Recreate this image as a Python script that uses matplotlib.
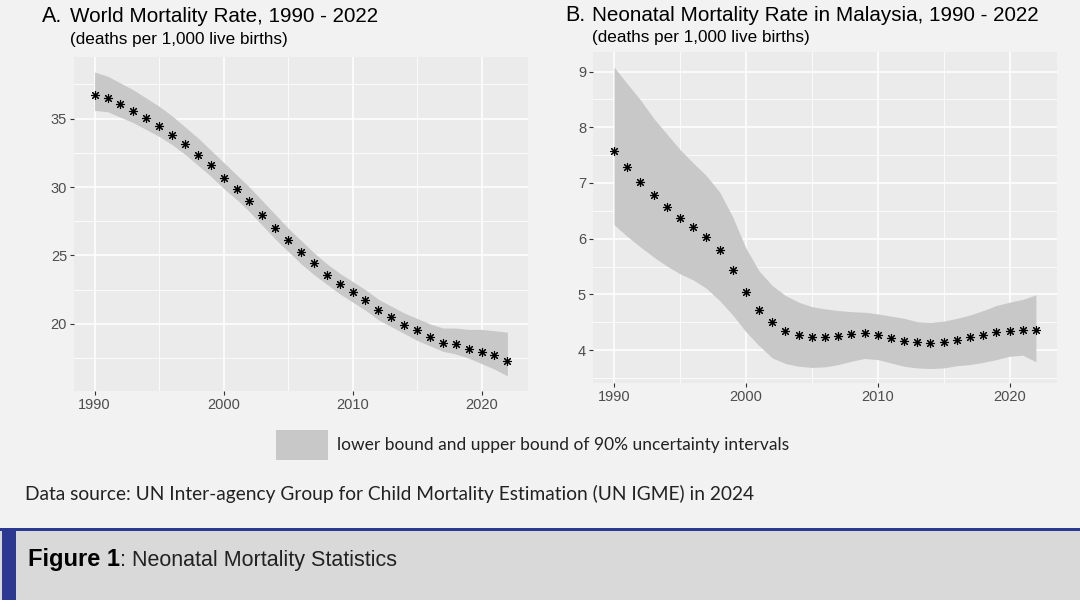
import numpy as np
import matplotlib.pyplot as plt
from matplotlib.patches import Rectangle
from matplotlib.ticker import MultipleLocator

W, H = 1080, 607

years = list(range(1990, 2023))

# World neonatal mortality rate (deaths per 1,000 live births)
world_rate = [36.71, 36.49, 36.06, 35.58, 35.04, 34.49, 33.81, 33.12, 32.36, 31.59,
              30.67, 29.88, 28.96, 27.97, 27.00, 26.11, 25.24, 24.42, 23.59, 22.94,
              22.32, 21.74, 20.99, 20.53, 19.90, 19.54, 19.06, 18.59, 18.50, 18.16,
              17.97, 17.70, 17.29]
world_upper = [38.4, 38.1, 37.6, 37.1, 36.5, 35.9, 35.2, 34.4, 33.6, 32.7,
               31.8, 30.9, 30.0, 29.0, 28.0, 27.0, 26.1, 25.2, 24.4, 23.7,
               23.1, 22.5, 21.8, 21.3, 20.8, 20.4, 20.0, 19.7, 19.7, 19.6,
               19.6, 19.5, 19.4]
world_lower = [35.6, 35.5, 35.1, 34.7, 34.2, 33.7, 33.1, 32.4, 31.6, 30.8,
               29.9, 29.1, 28.2, 27.2, 26.2, 25.3, 24.4, 23.6, 22.9, 22.2,
               21.6, 21.0, 20.3, 19.8, 19.3, 18.8, 18.4, 18.0, 17.8, 17.5,
               17.1, 16.7, 16.2]

# Malaysia neonatal mortality rate
mys_rate = [7.57, 7.29, 7.02, 6.78, 6.56, 6.37, 6.21, 6.03, 5.79, 5.43,
            5.05, 4.72, 4.50, 4.35, 4.27, 4.24, 4.23, 4.25, 4.29, 4.30,
            4.28, 4.22, 4.17, 4.14, 4.13, 4.15, 4.19, 4.23, 4.28, 4.32,
            4.35, 4.37, 4.37]
mys_upper = [9.08, 8.78, 8.49, 8.16, 7.88, 7.60, 7.36, 7.13, 6.84, 6.39,
             5.83, 5.42, 5.16, 4.98, 4.86, 4.78, 4.74, 4.71, 4.69, 4.68,
             4.65, 4.61, 4.57, 4.51, 4.50, 4.52, 4.57, 4.63, 4.71, 4.80,
             4.86, 4.91, 4.99]
mys_lower = [6.25, 6.04, 5.85, 5.67, 5.51, 5.37, 5.26, 5.11, 4.89, 4.63,
             4.33, 4.08, 3.86, 3.76, 3.71, 3.69, 3.70, 3.74, 3.80, 3.85,
             3.83, 3.77, 3.71, 3.68, 3.67, 3.68, 3.72, 3.74, 3.78, 3.83,
             3.89, 3.91, 3.79]

BG = '#F2F2F2'
PANEL = '#EBEBEB'
BAND = '#C8C8C8'
BLUE = '#2B3990'

plt.rcParams['font.family'] = ['Liberation Sans', 'DejaVu Sans']


def fx(x):
    return x / W


def fy(y):
    return 1 - y / H


def style_axes(ax, ymajor, yminor, ylim):
    ax.set_facecolor(PANEL)
    for s in ax.spines.values():
        s.set_visible(False)
    ax.set_xlim(1988.4, 2023.6)
    ax.set_ylim(*ylim)
    ax.xaxis.set_major_locator(MultipleLocator(10))
    ax.xaxis.set_minor_locator(MultipleLocator(5))
    ax.yaxis.set_major_locator(MultipleLocator(ymajor))
    ax.yaxis.set_minor_locator(MultipleLocator(yminor))
    ax.grid(which='major', color='white', lw=1.1)
    ax.grid(which='minor', color='white', lw=0.55)
    ax.set_axisbelow(True)
    ax.tick_params(which='major', length=3, width=0.8, color='#333333',
                   labelcolor='#4D4D4D', labelsize=10.5, pad=2)
    ax.tick_params(which='minor', length=0)


def draw(ax, rate, lower, upper):
    ax.fill_between(years, lower, upper, color=BAND, lw=0, zorder=2)
    ax.plot(years, rate, ls='none', marker=(8, 2, 0), ms=6.5, mew=0.8,
            color='black', zorder=3)


fig = plt.figure(figsize=(W / 100, H / 100), dpi=100, facecolor=BG)

ax1 = fig.add_axes([fx(74), fy(391), fx(528 - 74), (391 - 57) / H])
style_axes(ax1, 5, 2.5, (15.1, 39.5))
draw(ax1, world_rate, world_lower, world_upper)

ax2 = fig.add_axes([fx(593), fy(383), fx(1057 - 593), (383 - 52) / H])
style_axes(ax2, 1, 0.5, (3.41, 9.35))
draw(ax2, mys_rate, mys_lower, mys_upper)

# titles
fig.text(fx(42), fy(22), 'A.', fontsize=15.5, va='baseline', color='black')
fig.text(fx(70), fy(22), 'World Mortality Rate, 1990 - 2022', fontsize=14.9,
         va='baseline', color='black')
fig.text(fx(70), fy(44), '(deaths per 1,000 live births)', fontsize=12.3,
         va='baseline', color='black')
fig.text(fx(565), fy(21), 'B.', fontsize=15.5, va='baseline', color='black')
fig.text(fx(592), fy(21), 'Neonatal Mortality Rate in Malaysia, 1990 - 2022',
         fontsize=14.9, va='baseline', color='black')
fig.text(fx(592), fy(42), '(deaths per 1,000 live births)', fontsize=12.3,
         va='baseline', color='black')

# legend
fig.patches.append(Rectangle((fx(276), fy(460)), fx(52), 30 / H,
                             transform=fig.transFigure, color=BAND, lw=0))
fig.text(fx(337), fy(445), 'lower bound and upper bound of 90% uncertainty intervals',
         fontsize=12.5, va='center', color='#222222', family=['Lato', 'DejaVu Sans'])

fig.text(fx(25), fy(494), 'Data source: UN Inter-agency Group for Child Mortality Estimation (UN IGME) in 2024',
         fontsize=13.8, va='center', color='#222222', family=['Lato', 'DejaVu Sans'])

# caption box
fig.patches.append(Rectangle((0, fy(600)), 1, 70 / H, transform=fig.transFigure,
                             color='#D9D9D9', lw=0))
fig.patches.append(Rectangle((0, 0), 1, fy(600), transform=fig.transFigure,
                             color='white', lw=0))
fig.patches.append(Rectangle((0, fy(531)), 1, 3 / H, transform=fig.transFigure,
                             color=BLUE, lw=0))
fig.patches.append(Rectangle((fx(2), fy(600)), fx(14), 69 / H, transform=fig.transFigure,
                             color=BLUE, lw=0))
t = fig.text(fx(28), fy(566), 'Figure 1', fontsize=17, weight='bold',
             va='baseline', color='black')
fig.canvas.draw()
bb = t.get_window_extent()
fig.text(bb.x1 / W, fy(566), ': Neonatal Mortality Statistics', fontsize=15.5,
         va='baseline', color='#222222')

fig.savefig('out.png', dpi=100, facecolor=BG)
